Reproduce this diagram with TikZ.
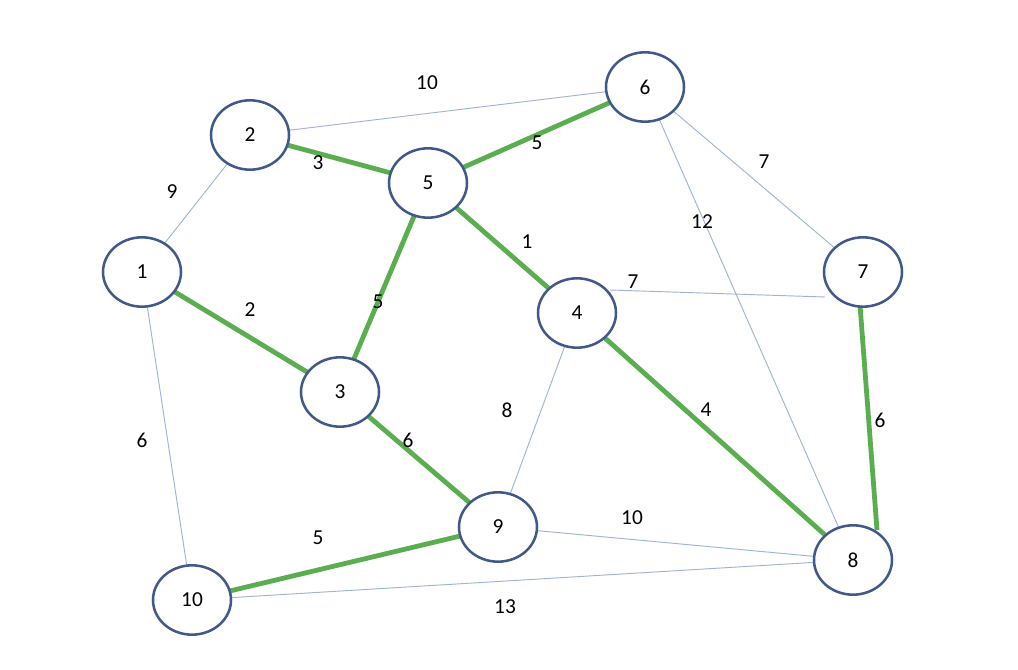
\documentclass[tikz,border=0pt]{standalone}
\usepackage{fontspec}
\setmainfont{Carlito}
\usetikzlibrary{shapes.geometric}
\definecolor{nodeb}{HTML}{41598A}
\definecolor{thinb}{HTML}{9DB3D8}
\definecolor{grn}{HTML}{5BAE4F}
\begin{document}
\begin{tikzpicture}[x=0.75pt,y=-0.75pt,
  vert/.style={ellipse,draw=nodeb,line width=1.9pt,fill=white,minimum width=58.5pt,minimum height=52pt,inner sep=0pt,font=\fontsize{16}{19}\selectfont},
  thin/.style={draw=thinb,line width=0.7pt},
  tree/.style={draw=grn,line width=3.6pt},
  wl/.style={font=\fontsize{16}{19}\selectfont}]
\useasboundingbox (0,0) rectangle (1018,670);
\coordinate (n2) at (250,135); \coordinate (n6) at (645,87); \coordinate (n5) at (428,183);
\coordinate (n1) at (142,272); \coordinate (n7) at (863,272); \coordinate (n4) at (577,313);
\coordinate (n3) at (340,392); \coordinate (n9) at (498,527); \coordinate (n8) at (853,560);
\coordinate (n10) at (192,600);
\coordinate (a4) at (610,290); \coordinate (a7) at (825,297);
\coordinate (t7) at (860,305); \coordinate (t8) at (877,530);
\foreach \a/\b in {2/6,2/1,1/10,6/7,6/8,9/8,10/8,4/9} \draw[thin] (n\a) -- (n\b);
\draw[thin] (a4) -- (a7);
\foreach \a/\b in {2/5,5/6,5/4,5/3,1/3,3/9,9/10,4/8} \draw[tree] (n\a) -- (n\b);
\draw[tree] (t7) -- (t8);
\foreach \n in {1,...,10} \node[vert] (v\n) at (n\n) {\n};
\node[wl] (l1) at (427,83) {10};
\node[wl] (l2) at (318,163) {3};
\node[wl] (l3) at (537,143) {5};
\node[wl] (l4) at (172,192) {9};
\node[wl] (l5) at (527,242) {1};
\node[wl] (l6) at (702,222) {12};
\node[wl] (l7) at (764,162) {7};
\node[wl] (l8) at (633,282) {7};
\node[wl] (l9) at (250,310) {2};
\node[wl] (l10) at (378,302) {5};
\node[wl] (l11) at (507,410) {8};
\node[wl] (l12) at (408,440) {6};
\node[wl] (l13) at (706,410) {4};
\node[wl] (l14) at (880,420) {6};
\node[wl] (l15) at (142,440) {6};
\node[wl] (l16) at (318,538) {5};
\node[wl] (l17) at (632,518) {10};
\node[wl] (l18) at (505,607) {13};
\end{tikzpicture}
\end{document}
